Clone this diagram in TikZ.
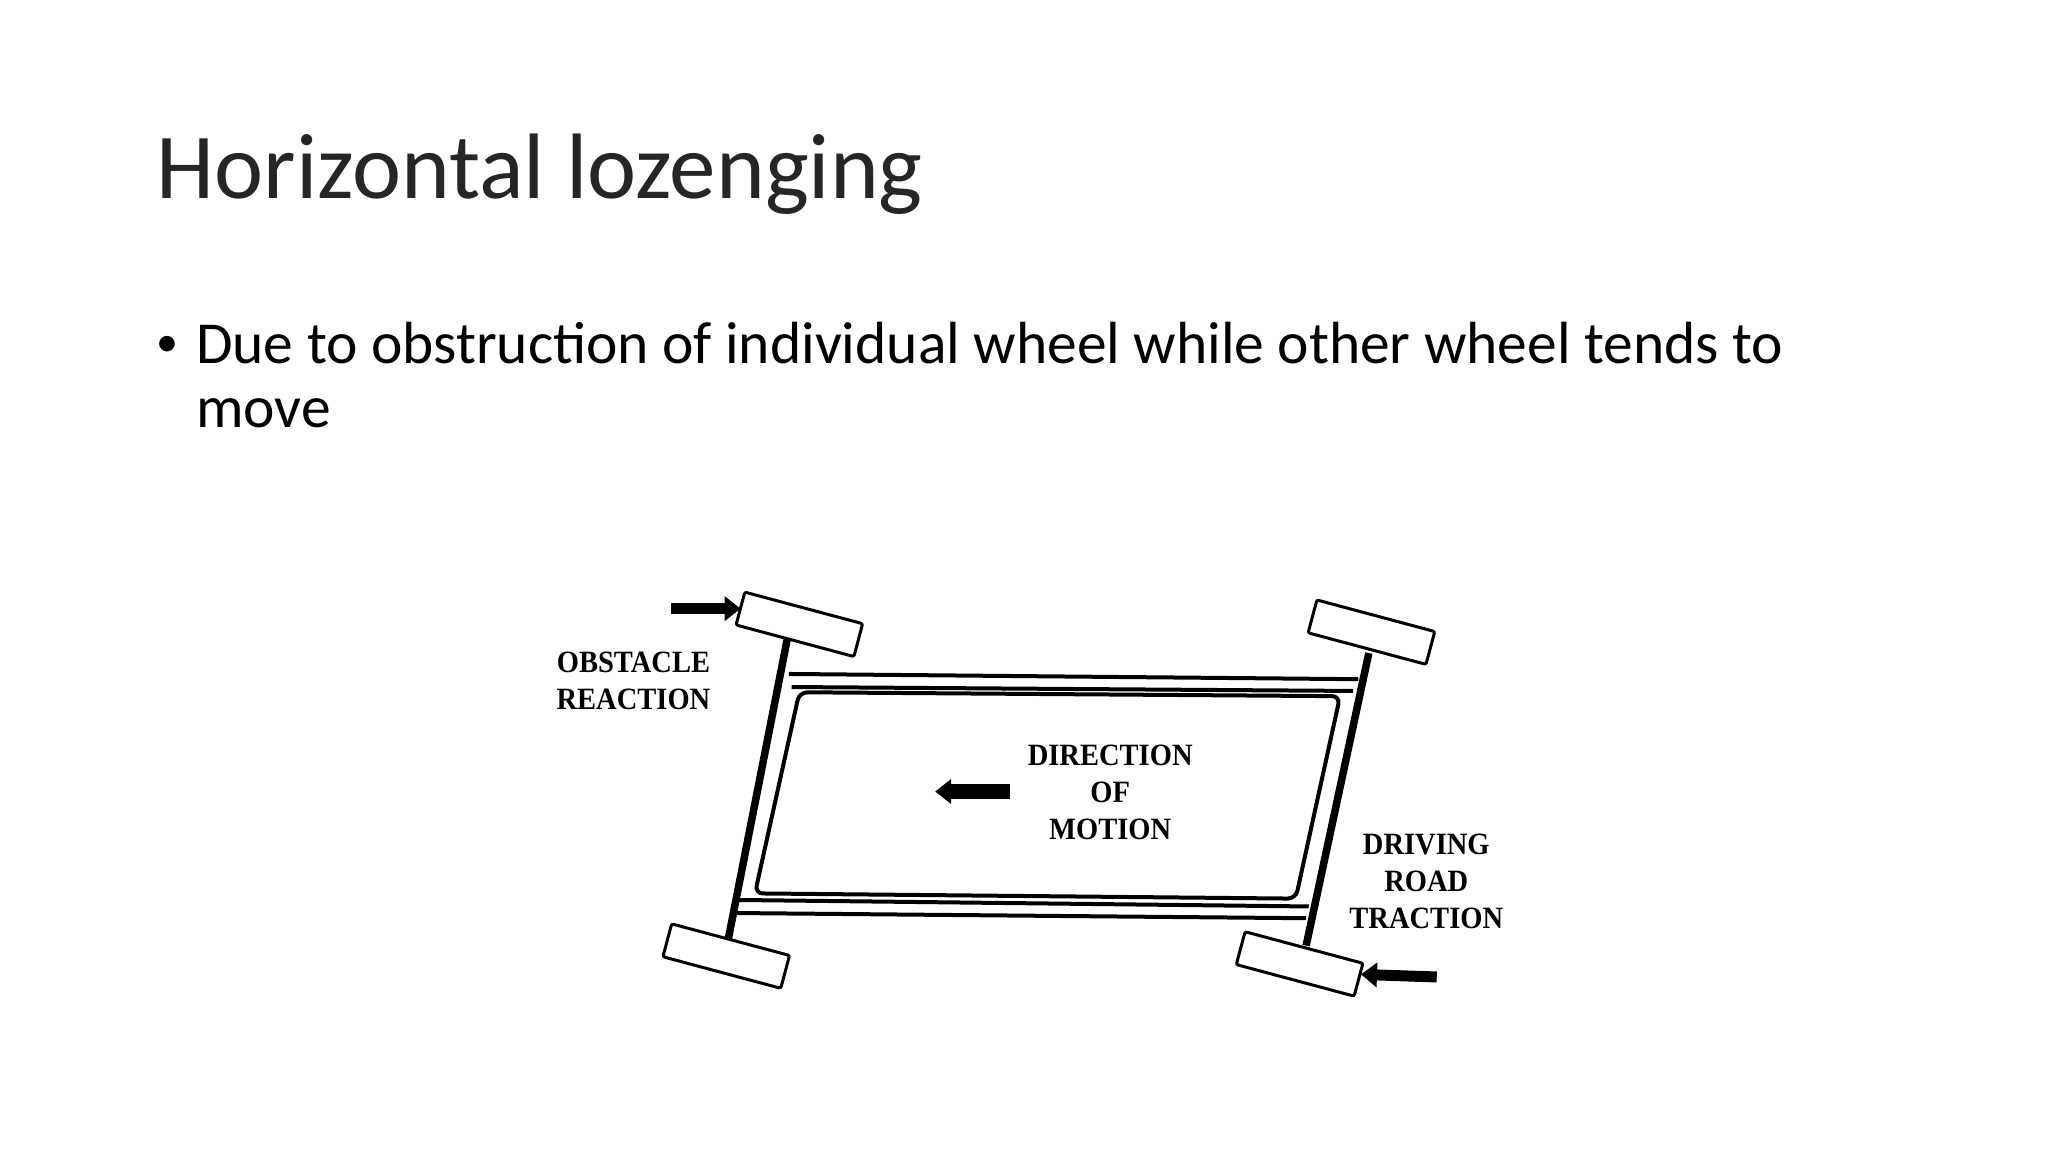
\documentclass[tikz,border=0pt]{standalone}
\usepackage{fontspec}
\setmainfont{Carlito}
\newfontfamily\lab{Liberation Serif}
\usetikzlibrary{arrows.meta}
\begin{document}
\begin{tikzpicture}[x=1.306122pt,y=-1.306122pt,
  wheel/.style={draw=black,line width=3pt,rounded corners=2pt,minimum width=122pt,minimum height=34pt,inner sep=0pt},
  rail/.style={line width=4pt},
  axle/.style={line width=7.5pt},
  fat/.style={line width=11pt,-{Triangle[length=16pt,width=24pt]}},
  lbl/.style={font=\lab\bfseries\fontsize{31}{37}\selectfont,align=center,inner sep=0pt},
  bodytext/.style={anchor=base west,inner sep=0pt,font=\fontsize{59.5}{72}\selectfont}]
\useasboundingbox (0,0) rectangle (1568,882);
\fill[white] (0,0) rectangle (1568,882);
\node[anchor=base west,inner sep=0pt,font=\fontsize{93}{110}\selectfont,text=black!85] (title) at (120,152) {Horizontal lozenging};
\node[bodytext,font=\fontsize{44}{50}\selectfont] (bul) at (120,273) {•};
\node[bodytext] (txt) at (150,278) {Due to obstruction of individual wheel while other wheel tends to};
\node[bodytext] (txt2) at (150,327) {move};
% frame
\draw[rail] (604,516) -- (1040,520);
\draw[rail] (606,526) -- (1036,529);
\draw[rail] (562,689) -- (1002,694);
\draw[rail] (560,699) -- (1000,703);
\draw[rail,rounded corners=8pt] (612,530) -- (1026,533) -- (992,688) -- (578,684) -- cycle;
\draw[axle] (603,488) coordinate (la1) -- (557,722) coordinate (la2);
\draw[axle] (1048,500) coordinate (ra1) -- (1000,724) coordinate (ra2);
% wheels
\node[wheel,fill=white,rotate=-15] (w1) at (612,478) {};
\node[wheel,fill=white,rotate=-15] (w2) at (1050,484) {};
\node[wheel,fill=white,rotate=-15] (w3) at (556,732) {};
\node[wheel,fill=white,rotate=-15] (w4) at (995,738) {};
% arrows
\coordinate (a1) at (514,466); \coordinate (a1e) at (567,466);
\draw[fat] (a1) -- (a1e);
\coordinate (a2) at (1100,748); \coordinate (a2e) at (1042,746);
\draw[fat] (a2) -- (a2e);
\coordinate (a3) at (773,606); \coordinate (a3e) at (716,606);
\draw[fat,line width=15pt] (a3) -- (a3e);
% labels
\node[lbl,xscale=0.92] (obs) at (485,521) {OBSTACLE\\REACTION};
\node[lbl,xscale=0.92] (dir) at (850,607) {DIRECTION\\OF\\MOTION};
\node[lbl,xscale=0.92] (drv) at (1092,675) {DRIVING\\ROAD\\TRACTION};
\end{tikzpicture}
\end{document}
